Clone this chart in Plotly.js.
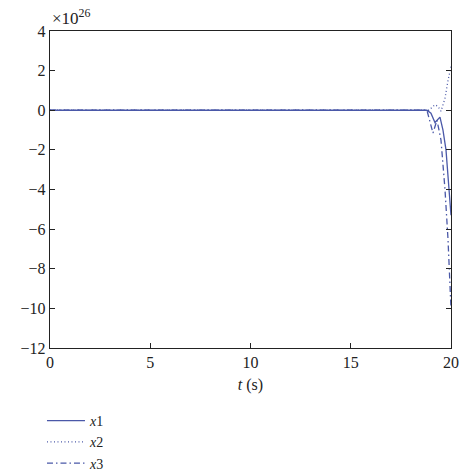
<!DOCTYPE html>
<html>
<head>
<meta charset="utf-8">
<script src="https://cdn.plot.ly/plotly-3.0.1.min.js"></script>
<style>html,body{margin:0;padding:0;background:#fff;}#chart{width:474px;height:474px;}</style>
</head>
<body>
<div id="chart"></div>
<script>
// values in units of 1e26
const t1 = [0, 18.8, 19.0, 19.2, 19.45, 19.6, 19.75, 19.9, 20];
const x1 = [0, 0, -0.15, -0.62, -0.35, -1.0, -2.0, -3.8, -5.3];
const t2 = [0, 18.9, 19.2, 19.35, 19.5, 19.7, 19.85, 20];
const x2 = [0, 0, 0.28, 0.2, -0.05, 0.6, 1.5, 2.2];
const t3 = [0, 18.8, 19.1, 19.3, 19.5, 19.7, 19.85, 20];
const x3 = [0, 0, -1.15, -0.5, -1.5, -4.0, -6.5, -10.0];
const names = ['<i>x</i>1', '<i>x</i>2', '<i>x</i>3'];
const yTicks = [4, 2, 0, -2, -4, -6, -8, -10, -12];
const xTicks = [0, 5, 10, 15, 20];

const color = '#4a58a8';
const fontFam = 'Liberation Serif';
const traces = [
  {x: t1, y: x1, name: names[0], mode: 'lines', line: {color: color, width: 1.3, dash: 'solid'}},
  {x: t2, y: x2, name: names[1], mode: 'lines', line: {color: color, width: 1.3, dash: '1px,2.5px'}},
  {x: t3, y: x3, name: names[2], mode: 'lines', line: {color: color, width: 1.3, dash: '6px,3px,1.5px,3px'}}
];
const layout = {
  width: 474, height: 474,
  margin: {l: 50, r: 23, t: 31, b: 126, autoexpand: false},
  paper_bgcolor: '#fff', plot_bgcolor: '#fff',
  font: {family: fontFam, size: 16, color: '#222'},
  showlegend: true,
  legend: {x: -0.02, xanchor: 'left', y: -0.18, yanchor: 'top', font: {family: fontFam, size: 14, color: '#222'},
    tracegroupgap: 0, itemwidth: 38, bgcolor: 'rgba(0,0,0,0)'},
  xaxis: {range: [0, 20], tickvals: xTicks, ticktext: xTicks.map(String), ticks: 'inside', ticklen: 5, tickcolor: '#222',
    showline: true, linecolor: '#222', linewidth: 1.2, mirror: true, showgrid: false, zeroline: false,
    title: {text: '<i>t</i> (s)', font: {family: fontFam, size: 16}, standoff: 8}},
  yaxis: {range: [-12, 4], tickvals: yTicks, ticktext: yTicks.map(v => v < 0 ? '\u2212' + Math.abs(v) : String(v)),
    ticks: 'inside', ticklen: 5, tickcolor: '#222', showline: true, linecolor: '#222', linewidth: 1.2, mirror: 'ticks',
    showgrid: false, zeroline: false},
  annotations: [{xref: 'paper', yref: 'paper', x: 0, y: 1, xanchor: 'left', yanchor: 'bottom', yshift: 1,
    text: '\u00d710<sup>26</sup>', showarrow: false, font: {family: fontFam, size: 17, color: '#222'}}]
};
Plotly.newPlot('chart', traces, layout, {displayModeBar: false, staticPlot: true});
</script>
</body>
</html>
